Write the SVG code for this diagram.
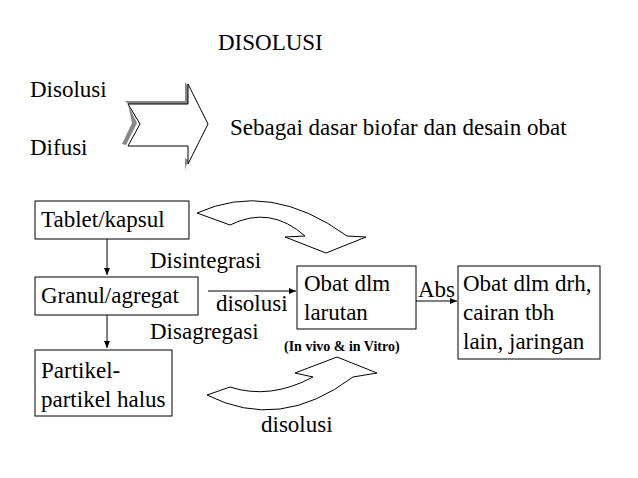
<svg xmlns="http://www.w3.org/2000/svg" width="638" height="478" viewBox="0 0 638 478" font-family="'Liberation Serif','Times New Roman','DejaVu Serif',serif">
<style>
text{font-family:'Liberation Serif','Times New Roman','DejaVu Serif',serif;font-size:23px;fill:#000}
.b{fill:#fff;stroke:#000;stroke-width:1}
.l{fill:none;stroke:#000;stroke-width:1}
</style>
<defs><marker id="a" markerWidth="8" markerHeight="8" refX="7" refY="4" orient="auto" markerUnits="userSpaceOnUse"><path d="M0,1 L7,4 L0,7z" fill="#000"/></marker></defs>
<rect width="638" height="478" fill="#fff"/>
<text x="218" y="50">DISOLUSI</text>
<text x="30" y="97">Disolusi</text>
<text x="30" y="155">Difusi</text>
<text x="230" y="135">Sebagai dasar biofar dan desain obat</text>
<g id="chevron">
<path d="M125,101 L185,101 L185,82 L188,86 L188,104 L128,104 Z" fill="#888"/>
<path d="M128,104 L137,123 L126,145 L122,144 L132,123 Z" fill="#888"/>
<path d="M185,158 L185,170 L188,160 Z" fill="#888"/>
<path d="M128,104 L188,104 L188,84 L208,124 L188,164 L188,146 L128,146 L140,124 Z" class="b"/>
</g>
<g id="tablet"><rect x="35" y="201" width="154" height="38" class="b"/><text x="41" y="227">Tablet/kapsul</text></g>
<g id="granul"><rect x="35" y="277" width="163" height="38" class="b"/><text x="41" y="303">Granul/agregat</text></g>
<g id="partikel"><rect x="35" y="350" width="137" height="66" class="b"/><text x="41" y="378">Partikel-</text><text x="41" y="407">partikel halus</text></g>
<g id="larutan"><rect x="297" y="266" width="119" height="63" class="b"/><text x="304" y="291">Obat dlm</text><text x="304" y="320">larutan</text></g>
<g id="drh"><rect x="458" y="266" width="142" height="93" class="b"/><text x="463" y="291">Obat dlm drh,</text><text x="463" y="320">cairan tbh</text><text x="463" y="349">lain, jaringan</text></g>
<g id="connectors">
<line x1="107" y1="239" x2="107" y2="275" class="l" marker-end="url(#a)"/>
<line x1="107" y1="315" x2="107" y2="348" class="l" marker-end="url(#a)"/>
<line x1="208" y1="291" x2="296" y2="291" class="l" marker-end="url(#a)"/>
<line x1="416" y1="301" x2="457" y2="301" class="l" marker-end="url(#a)"/>
<path d="M197,213 Q270,180 347,236 L366,237 L326,253 L285,237 L305,236 Q270,205 230,225 Z" class="b"/>
<path d="M207,395 Q280,432 353,377 L377,373 L337,357 L295,373 L313,377 Q270,400 230,387 Z" class="b"/>
</g>
<text x="150" y="268">Disintegrasi</text>
<text x="216" y="311">disolusi</text>
<text x="150" y="339">Disagregasi</text>
<text x="284" y="351" style="font-size:14px;font-weight:bold">(In vivo &amp; in Vitro)</text>
<text x="418" y="297">Abs</text>
<text x="261" y="432">disolusi</text>
</svg>
